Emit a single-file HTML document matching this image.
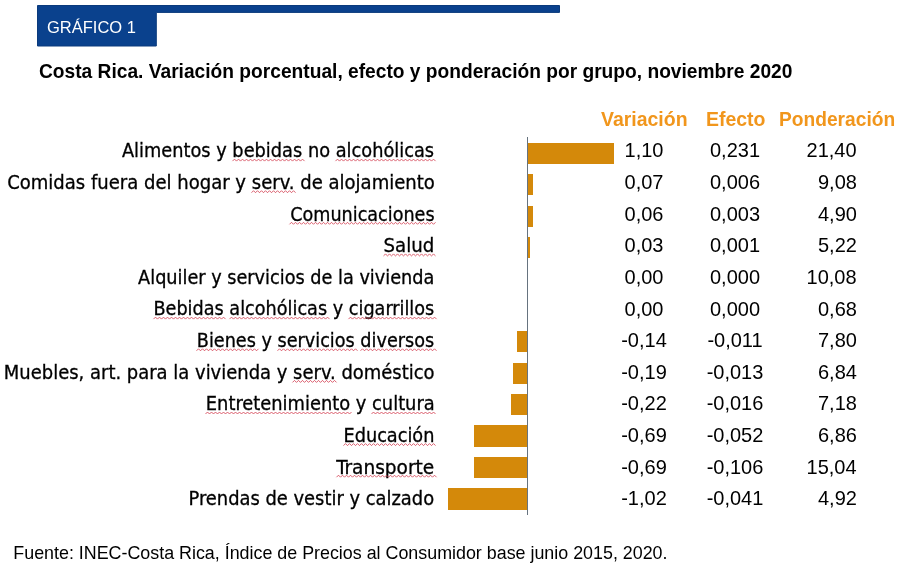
<!DOCTYPE html>
<html lang="es"><head><meta charset="utf-8"><title>Gráfico 1</title>
<style>
html,body{margin:0;padding:0;background:#fff;}
body{width:905px;height:587px;position:relative;overflow:hidden;font-family:"Liberation Sans",sans-serif;color:#000;}
.abs{position:absolute;white-space:nowrap;line-height:1;}
.tagsvg{position:absolute;left:0;top:0;}
.tagtxt{left:47px;top:18.5px;font-size:16.5px;color:#fff;transform-origin:0 0;}
.title{left:39px;top:61.6px;font-size:19.7px;transform:scaleX(0.974);font-weight:bold;transform-origin:0 0;}
.foot{left:13.3px;top:544.8px;font-size:17.87px;transform-origin:0 0;}
.hd{font-weight:bold;color:#f1961c;font-size:19.6px;transform-origin:0 0;transform:scaleX(0.993);}
.lab{font-family:"DejaVu Sans Condensed","DejaVu Sans",sans-serif;font-stretch:condensed;transform-origin:100% 50%;-webkit-text-stroke:0.3px #000;text-align:right;}
.lab u{text-decoration:none;}
.sq{position:absolute;left:0;top:0;pointer-events:none;}
.num{transform-origin:100% 50%;text-align:right;}
.numc{width:100px;text-align:center;transform-origin:50% 50%;}
.bar{position:absolute;background:#d4890a;}
.axis{position:absolute;background:#66737f;width:1px;}
</style></head><body>
<svg class="tagsvg" width="905" height="60" viewBox="0 0 905 60" aria-hidden="true"><path d="M37.5 5.5H559.5V12.4H156.3V46H37.5Z" fill="#0a418d" stroke="#0a3a7c" stroke-width="1"/></svg>
<div class="abs tagtxt">GRÁFICO 1</div>
<div class="abs title">Costa Rica. Variación porcentual, efecto y ponderación por grupo, noviembre 2020</div>
<div class="abs hd" style="left:601px;top:109.5px;">Variación</div>
<div class="abs hd" style="left:706px;top:109.5px;">Efecto</div>
<div class="abs hd" style="left:779px;top:109.5px;transform:scaleX(0.979)">Ponderación</div>

<div class="bar" style="left:528px;top:143.0px;width:86.0px;height:20.80px"></div>
<div class="abs lab" style="right:470.5px;top:140.38px;font-size:20.0px;transform:scaleX(0.9876)">Alimentos y <u>bebidas</u> no <u>alcohólicas</u></div>
<div class="abs numc" style="left:594.0px;top:139.47px;font-size:21.0px;transform:scaleX(0.952)">1,10</div>
<div class="abs numc" style="left:684.6px;top:139.47px;font-size:21.0px;transform:scaleX(0.952)">0,231</div>
<div class="abs num" style="right:48.3px;top:139.47px;font-size:21.0px;transform:scaleX(0.952)">21,40</div>
<div class="bar" style="left:528px;top:174.4px;width:4.8px;height:20.88px"></div>
<div class="abs lab" style="right:470.5px;top:172.00px;font-size:20.0px;transform:scaleX(1.002)">Comidas fuera del hogar y <u>serv.</u> de alojamiento</div>
<div class="abs numc" style="left:594.0px;top:171.09px;font-size:21.0px;transform:scaleX(0.952)">0,07</div>
<div class="abs numc" style="left:684.6px;top:171.09px;font-size:21.0px;transform:scaleX(0.952)">0,006</div>
<div class="abs num" style="right:48.3px;top:171.09px;font-size:21.0px;transform:scaleX(0.952)">9,08</div>
<div class="bar" style="left:528px;top:205.7px;width:4.7px;height:20.96px"></div>
<div class="abs lab" style="right:470.5px;top:203.62px;font-size:20.0px;transform:scaleX(0.978)"><u>Comunicaciones</u></div>
<div class="abs numc" style="left:594.0px;top:202.71px;font-size:21.0px;transform:scaleX(0.952)">0,06</div>
<div class="abs numc" style="left:684.6px;top:202.71px;font-size:21.0px;transform:scaleX(0.952)">0,003</div>
<div class="abs num" style="right:48.3px;top:202.71px;font-size:21.0px;transform:scaleX(0.952)">4,90</div>
<div class="bar" style="left:528px;top:237.1px;width:1.8px;height:21.05px"></div>
<div class="abs lab" style="right:470.5px;top:235.24px;font-size:20.0px;transform:scaleX(1.01)"><u>Salud</u></div>
<div class="abs numc" style="left:594.0px;top:234.33px;font-size:21.0px;transform:scaleX(0.952)">0,03</div>
<div class="abs numc" style="left:684.6px;top:234.33px;font-size:21.0px;transform:scaleX(0.952)">0,001</div>
<div class="abs num" style="right:48.3px;top:234.33px;font-size:21.0px;transform:scaleX(0.952)">5,22</div>
<div class="abs lab" style="right:470.5px;top:266.86px;font-size:20.0px;transform:scaleX(0.983)">Alquiler y servicios de la vivienda</div>
<div class="abs numc" style="left:594.0px;top:265.95px;font-size:21.0px;transform:scaleX(0.952)">0,00</div>
<div class="abs numc" style="left:684.6px;top:265.95px;font-size:21.0px;transform:scaleX(0.952)">0,000</div>
<div class="abs num" style="right:48.3px;top:265.95px;font-size:21.0px;transform:scaleX(0.952)">10,08</div>
<div class="abs lab" style="right:470.5px;top:298.48px;font-size:20.0px;transform:scaleX(0.981)"><u>Bebidas</u> <u>alcohólicas</u> y <u>cigarrillos</u></div>
<div class="abs numc" style="left:594.0px;top:297.57px;font-size:21.0px;transform:scaleX(0.952)">0,00</div>
<div class="abs numc" style="left:684.6px;top:297.57px;font-size:21.0px;transform:scaleX(0.952)">0,000</div>
<div class="abs num" style="right:48.3px;top:297.57px;font-size:21.0px;transform:scaleX(0.952)">0,68</div>
<div class="bar" style="left:517.1px;top:331.2px;width:9.9px;height:21.29px"></div>
<div class="abs lab" style="right:470.5px;top:330.10px;font-size:20.0px;transform:scaleX(0.98)"><u>Bienes</u> y <u>servicios</u> <u>diversos</u></div>
<div class="abs numc" style="left:594.0px;top:329.19px;font-size:21.0px;transform:scaleX(0.952)">-0,14</div>
<div class="abs numc" style="left:684.6px;top:329.19px;font-size:21.0px;transform:scaleX(0.952)">-0,011</div>
<div class="abs num" style="right:48.3px;top:329.19px;font-size:21.0px;transform:scaleX(0.952)">7,80</div>
<div class="bar" style="left:513px;top:362.6px;width:14.0px;height:21.37px"></div>
<div class="abs lab" style="right:470.5px;top:361.72px;font-size:20.0px;transform:scaleX(0.998)">Muebles, art. para la vivienda y <u>serv.</u> doméstico</div>
<div class="abs numc" style="left:594.0px;top:360.81px;font-size:21.0px;transform:scaleX(0.952)">-0,19</div>
<div class="abs numc" style="left:684.6px;top:360.81px;font-size:21.0px;transform:scaleX(0.952)">-0,013</div>
<div class="abs num" style="right:48.3px;top:360.81px;font-size:21.0px;transform:scaleX(0.952)">6,84</div>
<div class="bar" style="left:511.1px;top:394.0px;width:15.9px;height:21.46px"></div>
<div class="abs lab" style="right:470.5px;top:393.34px;font-size:20.0px;transform:scaleX(0.992)"><u>Entretenimiento</u> y <u>cultura</u></div>
<div class="abs numc" style="left:594.0px;top:392.43px;font-size:21.0px;transform:scaleX(0.952)">-0,22</div>
<div class="abs numc" style="left:684.6px;top:392.43px;font-size:21.0px;transform:scaleX(0.952)">-0,016</div>
<div class="abs num" style="right:48.3px;top:392.43px;font-size:21.0px;transform:scaleX(0.952)">7,18</div>
<div class="bar" style="left:474.2px;top:425.3px;width:52.8px;height:21.54px"></div>
<div class="abs lab" style="right:470.5px;top:424.96px;font-size:20.0px;transform:scaleX(0.984)"><u>Educación</u></div>
<div class="abs numc" style="left:594.0px;top:424.05px;font-size:21.0px;transform:scaleX(0.952)">-0,69</div>
<div class="abs numc" style="left:684.6px;top:424.05px;font-size:21.0px;transform:scaleX(0.952)">-0,052</div>
<div class="abs num" style="right:48.3px;top:424.05px;font-size:21.0px;transform:scaleX(0.952)">6,86</div>
<div class="bar" style="left:474.2px;top:456.7px;width:52.8px;height:21.62px"></div>
<div class="abs lab" style="right:470.5px;top:456.58px;font-size:20.0px;transform:scaleX(1.03)"><u>Transporte</u></div>
<div class="abs numc" style="left:594.0px;top:455.67px;font-size:21.0px;transform:scaleX(0.952)">-0,69</div>
<div class="abs numc" style="left:684.6px;top:455.67px;font-size:21.0px;transform:scaleX(0.952)">-0,106</div>
<div class="abs num" style="right:48.3px;top:455.67px;font-size:21.0px;transform:scaleX(0.952)">15,04</div>
<div class="bar" style="left:448px;top:488.1px;width:79.0px;height:21.70px"></div>
<div class="abs lab" style="right:470.5px;top:488.20px;font-size:20.0px;transform:scaleX(0.994)">Prendas de vestir y calzado</div>
<div class="abs numc" style="left:594.0px;top:487.29px;font-size:21.0px;transform:scaleX(0.952)">-1,02</div>
<div class="abs numc" style="left:684.6px;top:487.29px;font-size:21.0px;transform:scaleX(0.952)">-0,041</div>
<div class="abs num" style="right:48.3px;top:487.29px;font-size:21.0px;transform:scaleX(0.952)">4,92</div>
<div class="axis" style="left:527px;top:137px;height:377.5px"></div>
<div class="abs foot">Fuente: INEC-Costa Rica, Índice de Precios al Consumidor base junio 2015, 2020.</div>
<svg class="sq" width="905" height="587" viewBox="0 0 905 587" aria-hidden="true"><g fill="none" stroke="#d23a4c" stroke-opacity="0.8" stroke-width="1" stroke-linejoin="miter"><polyline points="232.5,161.1 234.5,159.1 236.5,161.1 238.5,159.1 240.5,161.1 242.5,159.1 244.5,161.1 246.5,159.1 248.5,161.1 250.5,159.1 252.5,161.1 254.5,159.1 256.5,161.1 258.5,159.1 260.5,161.1 262.5,159.1 264.5,161.1 266.5,159.1 268.5,161.1 270.5,159.1 272.5,161.1 274.5,159.1 276.5,161.1 278.5,159.1 280.5,161.1 282.5,159.1 284.5,161.1 286.5,159.1 288.5,161.1 290.5,159.1 292.5,161.1 294.5,159.1 296.5,161.1 298.5,159.1 300.5,161.1 302.5,159.1 304.5,161.1"/><polyline points="335.5,161.1 337.5,159.1 339.5,161.1 341.5,159.1 343.5,161.1 345.5,159.1 347.5,161.1 349.5,159.1 351.5,161.1 353.5,159.1 355.5,161.1 357.5,159.1 359.5,161.1 361.5,159.1 363.5,161.1 365.5,159.1 367.5,161.1 369.5,159.1 371.5,161.1 373.5,159.1 375.5,161.1 377.5,159.1 379.5,161.1 381.5,159.1 383.5,161.1 385.5,159.1 387.5,161.1 389.5,159.1 391.5,161.1 393.5,159.1 395.5,161.1 397.5,159.1 399.5,161.1 401.5,159.1 403.5,161.1 405.5,159.1 407.5,161.1 409.5,159.1 411.5,161.1 413.5,159.1 415.5,161.1 417.5,159.1 419.5,161.1 421.5,159.1 423.5,161.1 425.5,159.1 427.5,161.1 429.5,159.1 431.5,161.1 433.5,159.1 435.5,161.1"/><polyline points="251.5,192.7 253.5,190.7 255.5,192.7 257.5,190.7 259.5,192.7 261.5,190.7 263.5,192.7 265.5,190.7 267.5,192.7 269.5,190.7 271.5,192.7 273.5,190.7 275.5,192.7 277.5,190.7 279.5,192.7 281.5,190.7 283.5,192.7 285.5,190.7 287.5,192.7 289.5,190.7 291.5,192.7 293.5,190.7 295.5,192.7"/><polyline points="289.5,224.3 291.5,222.3 293.5,224.3 295.5,222.3 297.5,224.3 299.5,222.3 301.5,224.3 303.5,222.3 305.5,224.3 307.5,222.3 309.5,224.3 311.5,222.3 313.5,224.3 315.5,222.3 317.5,224.3 319.5,222.3 321.5,224.3 323.5,222.3 325.5,224.3 327.5,222.3 329.5,224.3 331.5,222.3 333.5,224.3 335.5,222.3 337.5,224.3 339.5,222.3 341.5,224.3 343.5,222.3 345.5,224.3 347.5,222.3 349.5,224.3 351.5,222.3 353.5,224.3 355.5,222.3 357.5,224.3 359.5,222.3 361.5,224.3 363.5,222.3 365.5,224.3 367.5,222.3 369.5,224.3 371.5,222.3 373.5,224.3 375.5,222.3 377.5,224.3 379.5,222.3 381.5,224.3 383.5,222.3 385.5,224.3 387.5,222.3 389.5,224.3 391.5,222.3 393.5,224.3 395.5,222.3 397.5,224.3 399.5,222.3 401.5,224.3 403.5,222.3 405.5,224.3 407.5,222.3 409.5,224.3 411.5,222.3 413.5,224.3 415.5,222.3 417.5,224.3 419.5,222.3 421.5,224.3 423.5,222.3 425.5,224.3 427.5,222.3 429.5,224.3 431.5,222.3 433.5,224.3 435.5,222.3"/><polyline points="383.5,255.9 385.5,253.9 387.5,255.9 389.5,253.9 391.5,255.9 393.5,253.9 395.5,255.9 397.5,253.9 399.5,255.9 401.5,253.9 403.5,255.9 405.5,253.9 407.5,255.9 409.5,253.9 411.5,255.9 413.5,253.9 415.5,255.9 417.5,253.9 419.5,255.9 421.5,253.9 423.5,255.9 425.5,253.9 427.5,255.9 429.5,253.9 431.5,255.9 433.5,253.9 435.5,255.9"/><polyline points="153.5,319.1 155.5,317.1 157.5,319.1 159.5,317.1 161.5,319.1 163.5,317.1 165.5,319.1 167.5,317.1 169.5,319.1 171.5,317.1 173.5,319.1 175.5,317.1 177.5,319.1 179.5,317.1 181.5,319.1 183.5,317.1 185.5,319.1 187.5,317.1 189.5,319.1 191.5,317.1 193.5,319.1 195.5,317.1 197.5,319.1 199.5,317.1 201.5,319.1 203.5,317.1 205.5,319.1 207.5,317.1 209.5,319.1 211.5,317.1 213.5,319.1 215.5,317.1 217.5,319.1 219.5,317.1 221.5,319.1 223.5,317.1 225.5,319.1"/><polyline points="229.5,319.1 231.5,317.1 233.5,319.1 235.5,317.1 237.5,319.1 239.5,317.1 241.5,319.1 243.5,317.1 245.5,319.1 247.5,317.1 249.5,319.1 251.5,317.1 253.5,319.1 255.5,317.1 257.5,319.1 259.5,317.1 261.5,319.1 263.5,317.1 265.5,319.1 267.5,317.1 269.5,319.1 271.5,317.1 273.5,319.1 275.5,317.1 277.5,319.1 279.5,317.1 281.5,319.1 283.5,317.1 285.5,319.1 287.5,317.1 289.5,319.1 291.5,317.1 293.5,319.1 295.5,317.1 297.5,319.1 299.5,317.1 301.5,319.1 303.5,317.1 305.5,319.1 307.5,317.1 309.5,319.1 311.5,317.1 313.5,319.1 315.5,317.1 317.5,319.1 319.5,317.1 321.5,319.1 323.5,317.1 325.5,319.1 327.5,317.1 329.5,319.1"/><polyline points="348.5,319.1 350.5,317.1 352.5,319.1 354.5,317.1 356.5,319.1 358.5,317.1 360.5,319.1 362.5,317.1 364.5,319.1 366.5,317.1 368.5,319.1 370.5,317.1 372.5,319.1 374.5,317.1 376.5,319.1 378.5,317.1 380.5,319.1 382.5,317.1 384.5,319.1 386.5,317.1 388.5,319.1 390.5,317.1 392.5,319.1 394.5,317.1 396.5,319.1 398.5,317.1 400.5,319.1 402.5,317.1 404.5,319.1 406.5,317.1 408.5,319.1 410.5,317.1 412.5,319.1 414.5,317.1 416.5,319.1 418.5,317.1 420.5,319.1 422.5,317.1 424.5,319.1 426.5,317.1 428.5,319.1 430.5,317.1 432.5,319.1 434.5,317.1 436.5,319.1"/><polyline points="196.5,350.8 198.5,348.8 200.5,350.8 202.5,348.8 204.5,350.8 206.5,348.8 208.5,350.8 210.5,348.8 212.5,350.8 214.5,348.8 216.5,350.8 218.5,348.8 220.5,350.8 222.5,348.8 224.5,350.8 226.5,348.8 228.5,350.8 230.5,348.8 232.5,350.8 234.5,348.8 236.5,350.8 238.5,348.8 240.5,350.8 242.5,348.8 244.5,350.8 246.5,348.8 248.5,350.8 250.5,348.8 252.5,350.8 254.5,348.8 256.5,350.8 258.5,348.8"/><polyline points="277.5,350.8 279.5,348.8 281.5,350.8 283.5,348.8 285.5,350.8 287.5,348.8 289.5,350.8 291.5,348.8 293.5,350.8 295.5,348.8 297.5,350.8 299.5,348.8 301.5,350.8 303.5,348.8 305.5,350.8 307.5,348.8 309.5,350.8 311.5,348.8 313.5,350.8 315.5,348.8 317.5,350.8 319.5,348.8 321.5,350.8 323.5,348.8 325.5,350.8 327.5,348.8 329.5,350.8 331.5,348.8 333.5,350.8 335.5,348.8 337.5,350.8 339.5,348.8 341.5,350.8 343.5,348.8 345.5,350.8 347.5,348.8 349.5,350.8 351.5,348.8 353.5,350.8 355.5,348.8 357.5,350.8"/><polyline points="360.5,350.8 362.5,348.8 364.5,350.8 366.5,348.8 368.5,350.8 370.5,348.8 372.5,350.8 374.5,348.8 376.5,350.8 378.5,348.8 380.5,350.8 382.5,348.8 384.5,350.8 386.5,348.8 388.5,350.8 390.5,348.8 392.5,350.8 394.5,348.8 396.5,350.8 398.5,348.8 400.5,350.8 402.5,348.8 404.5,350.8 406.5,348.8 408.5,350.8 410.5,348.8 412.5,350.8 414.5,348.8 416.5,350.8 418.5,348.8 420.5,350.8 422.5,348.8 424.5,350.8 426.5,348.8 428.5,350.8 430.5,348.8 432.5,350.8 434.5,348.8 436.5,350.8"/><polyline points="292.5,382.4 294.5,380.4 296.5,382.4 298.5,380.4 300.5,382.4 302.5,380.4 304.5,382.4 306.5,380.4 308.5,382.4 310.5,380.4 312.5,382.4 314.5,380.4 316.5,382.4 318.5,380.4 320.5,382.4 322.5,380.4 324.5,382.4 326.5,380.4 328.5,382.4 330.5,380.4 332.5,382.4 334.5,380.4 336.5,382.4"/><polyline points="205.5,414.0 207.5,412.0 209.5,414.0 211.5,412.0 213.5,414.0 215.5,412.0 217.5,414.0 219.5,412.0 221.5,414.0 223.5,412.0 225.5,414.0 227.5,412.0 229.5,414.0 231.5,412.0 233.5,414.0 235.5,412.0 237.5,414.0 239.5,412.0 241.5,414.0 243.5,412.0 245.5,414.0 247.5,412.0 249.5,414.0 251.5,412.0 253.5,414.0 255.5,412.0 257.5,414.0 259.5,412.0 261.5,414.0 263.5,412.0 265.5,414.0 267.5,412.0 269.5,414.0 271.5,412.0 273.5,414.0 275.5,412.0 277.5,414.0 279.5,412.0 281.5,414.0 283.5,412.0 285.5,414.0 287.5,412.0 289.5,414.0 291.5,412.0 293.5,414.0 295.5,412.0 297.5,414.0 299.5,412.0 301.5,414.0 303.5,412.0 305.5,414.0 307.5,412.0 309.5,414.0 311.5,412.0 313.5,414.0 315.5,412.0 317.5,414.0 319.5,412.0 321.5,414.0 323.5,412.0 325.5,414.0 327.5,412.0 329.5,414.0 331.5,412.0 333.5,414.0 335.5,412.0 337.5,414.0 339.5,412.0 341.5,414.0 343.5,412.0 345.5,414.0 347.5,412.0 349.5,414.0 351.5,412.0"/><polyline points="371.5,414.0 373.5,412.0 375.5,414.0 377.5,412.0 379.5,414.0 381.5,412.0 383.5,414.0 385.5,412.0 387.5,414.0 389.5,412.0 391.5,414.0 393.5,412.0 395.5,414.0 397.5,412.0 399.5,414.0 401.5,412.0 403.5,414.0 405.5,412.0 407.5,414.0 409.5,412.0 411.5,414.0 413.5,412.0 415.5,414.0 417.5,412.0 419.5,414.0 421.5,412.0 423.5,414.0 425.5,412.0 427.5,414.0 429.5,412.0 431.5,414.0 433.5,412.0 435.5,414.0"/><polyline points="343.5,445.6 345.5,443.6 347.5,445.6 349.5,443.6 351.5,445.6 353.5,443.6 355.5,445.6 357.5,443.6 359.5,445.6 361.5,443.6 363.5,445.6 365.5,443.6 367.5,445.6 369.5,443.6 371.5,445.6 373.5,443.6 375.5,445.6 377.5,443.6 379.5,445.6 381.5,443.6 383.5,445.6 385.5,443.6 387.5,445.6 389.5,443.6 391.5,445.6 393.5,443.6 395.5,445.6 397.5,443.6 399.5,445.6 401.5,443.6 403.5,445.6 405.5,443.6 407.5,445.6 409.5,443.6 411.5,445.6 413.5,443.6 415.5,445.6 417.5,443.6 419.5,445.6 421.5,443.6 423.5,445.6 425.5,443.6 427.5,445.6 429.5,443.6 431.5,445.6 433.5,443.6 435.5,445.6"/><polyline points="336.5,477.2 338.5,475.2 340.5,477.2 342.5,475.2 344.5,477.2 346.5,475.2 348.5,477.2 350.5,475.2 352.5,477.2 354.5,475.2 356.5,477.2 358.5,475.2 360.5,477.2 362.5,475.2 364.5,477.2 366.5,475.2 368.5,477.2 370.5,475.2 372.5,477.2 374.5,475.2 376.5,477.2 378.5,475.2 380.5,477.2 382.5,475.2 384.5,477.2 386.5,475.2 388.5,477.2 390.5,475.2 392.5,477.2 394.5,475.2 396.5,477.2 398.5,475.2 400.5,477.2 402.5,475.2 404.5,477.2 406.5,475.2 408.5,477.2 410.5,475.2 412.5,477.2 414.5,475.2 416.5,477.2 418.5,475.2 420.5,477.2 422.5,475.2 424.5,477.2 426.5,475.2 428.5,477.2 430.5,475.2 432.5,477.2 434.5,475.2 436.5,477.2"/></g></svg>
</body></html>
